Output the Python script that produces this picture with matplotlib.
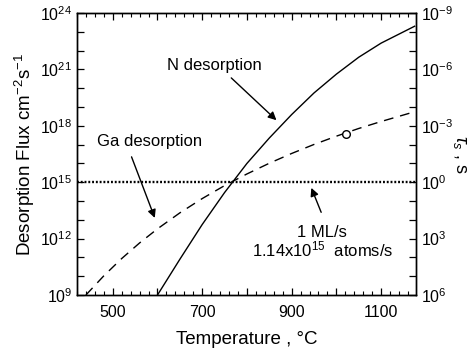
import numpy as np
import matplotlib.pyplot as plt
from matplotlib.ticker import MultipleLocator, FixedLocator, FixedFormatter, NullFormatter

plt.rcParams['font.family'] = ['Liberation Sans', 'DejaVu Sans']
plt.rcParams['mathtext.fontset'] = 'custom'
plt.rcParams['mathtext.rm'] = 'Liberation Sans'
plt.rcParams['mathtext.it'] = 'Liberation Sans:italic'

# values (temperature in C, log10 of flux)
n_temp = [600, 650, 700, 750, 800, 850, 900, 950, 1000, 1050, 1100, 1175]
n_logflux = [9.0, 10.9, 12.75, 14.45, 16.0, 17.35, 18.6, 19.75, 20.75, 21.65, 22.4, 23.3]

ga_temp = [440, 480, 520, 560, 600, 650, 700, 750, 800, 850, 900, 950, 1000, 1050, 1100, 1175]
ga_logflux = [9.0, 10.02, 10.94, 11.77, 12.52, 13.37, 14.13, 14.82, 15.44, 16.01,
              16.53, 17.01, 17.45, 17.86, 18.23, 18.75]

ml_flux = 1e15          # 1 ML/s line
point_temp = 1021
point_logflux = 17.55

left_exp = [9, 12, 15, 18, 21, 24]
right_exp = [6, 3, 0, -3, -6, -9]

fig = plt.figure(figsize=(4.74, 3.53), dpi=100)
ax = fig.add_axes([0.1624, 0.1643, 0.7152, 0.7987])

ax.plot(n_temp, 10.0 ** np.array(n_logflux), color='black', lw=1.0)
ax.plot(ga_temp, 10.0 ** np.array(ga_logflux), color='black', lw=1.0,
        dashes=(7, 5))
ax.axhline(ml_flux, color='black', lw=1.7, ls=(0, (0.8, 0.8)))
ax.plot([point_temp], [10 ** point_logflux], 'o', mfc='white', mec='black',
        ms=5.5, mew=1.0)

ax.set_yscale('log')
ax.set_xlim(420, 1178)
ax.set_ylim(1e9, 1e24)

ax.yaxis.set_major_locator(FixedLocator([10.0 ** e for e in range(9, 25)]))
ax.yaxis.set_major_formatter(FixedFormatter(
    [r'$\mathregular{10^{%d}}$' % e if e in left_exp else '' for e in range(9, 25)]))
ax.yaxis.set_minor_locator(FixedLocator([]))

ax.xaxis.set_major_locator(MultipleLocator(100))
ax.xaxis.set_minor_locator(MultipleLocator(20))
ax.xaxis.set_major_formatter(plt.FuncFormatter(
    lambda v, p: '%d' % v if int(v) in (500, 700, 900, 1100) else ''))

ax.tick_params(which='both', direction='in', top=True, labelsize=11.5)
ax.tick_params(which='major', length=5, width=0.9)
ax.tick_params(which='minor', length=3, width=0.8)
ax.tick_params(axis='x', pad=7)

ax2 = ax.twinx()
ax2.set_yscale('log')
ax2.set_ylim(1e6, 1e-9)
ax2.yaxis.set_major_locator(FixedLocator([10.0 ** e for e in range(-9, 7)]))
ax2.yaxis.set_major_formatter(FixedFormatter(
    [r'$\mathregular{10^{%d}}$' % e if e in right_exp else '' for e in range(-9, 7)]))
ax2.yaxis.set_minor_locator(FixedLocator([]))
ax2.yaxis.set_minor_formatter(NullFormatter())
ax2.tick_params(direction='in', length=5, width=0.9, labelsize=11.5)

ax.set_xlabel('Temperature , \u00b0C', fontsize=13.5, labelpad=8)
ax.set_ylabel(r'Desorption Flux cm$^{-2}$s$^{-1}$', fontsize=13.5, labelpad=2)
ax2.set_ylabel(r'$\tau_s$ , s', fontsize=13, rotation=270, labelpad=11)

arrow = dict(arrowstyle='-|>', color='black', lw=1.0, mutation_scale=12,
             shrinkA=0, shrinkB=0)
ax.text(727, 10 ** 21.2, 'N desorption', fontsize=12, ha='center', va='center')
ax.annotate('', xy=(866, 10 ** 18.3), xytext=(765, 10 ** 20.55), arrowprops=arrow)

ax.text(582, 10 ** 17.15, 'Ga desorption', fontsize=12, ha='center', va='center')
ax.annotate('', xy=(594, 10 ** 13.1), xytext=(542, 10 ** 16.35), arrowprops=arrow)

ax.text(968, 10 ** 12.3, '1 ML/s', fontsize=12, ha='center', va='center')
ax.text(969, 10 ** 11.45, r'1.14x10$^{15}$  atoms/s', fontsize=12,
        ha='center', va='center')
ax.annotate('', xy=(944, 10 ** 14.7), xytext=(966, 10 ** 13.4), arrowprops=arrow)

for a in (ax, ax2):
    for s in a.spines.values():
        s.set_linewidth(1.0)

fig.savefig('out.png', dpi=100)
